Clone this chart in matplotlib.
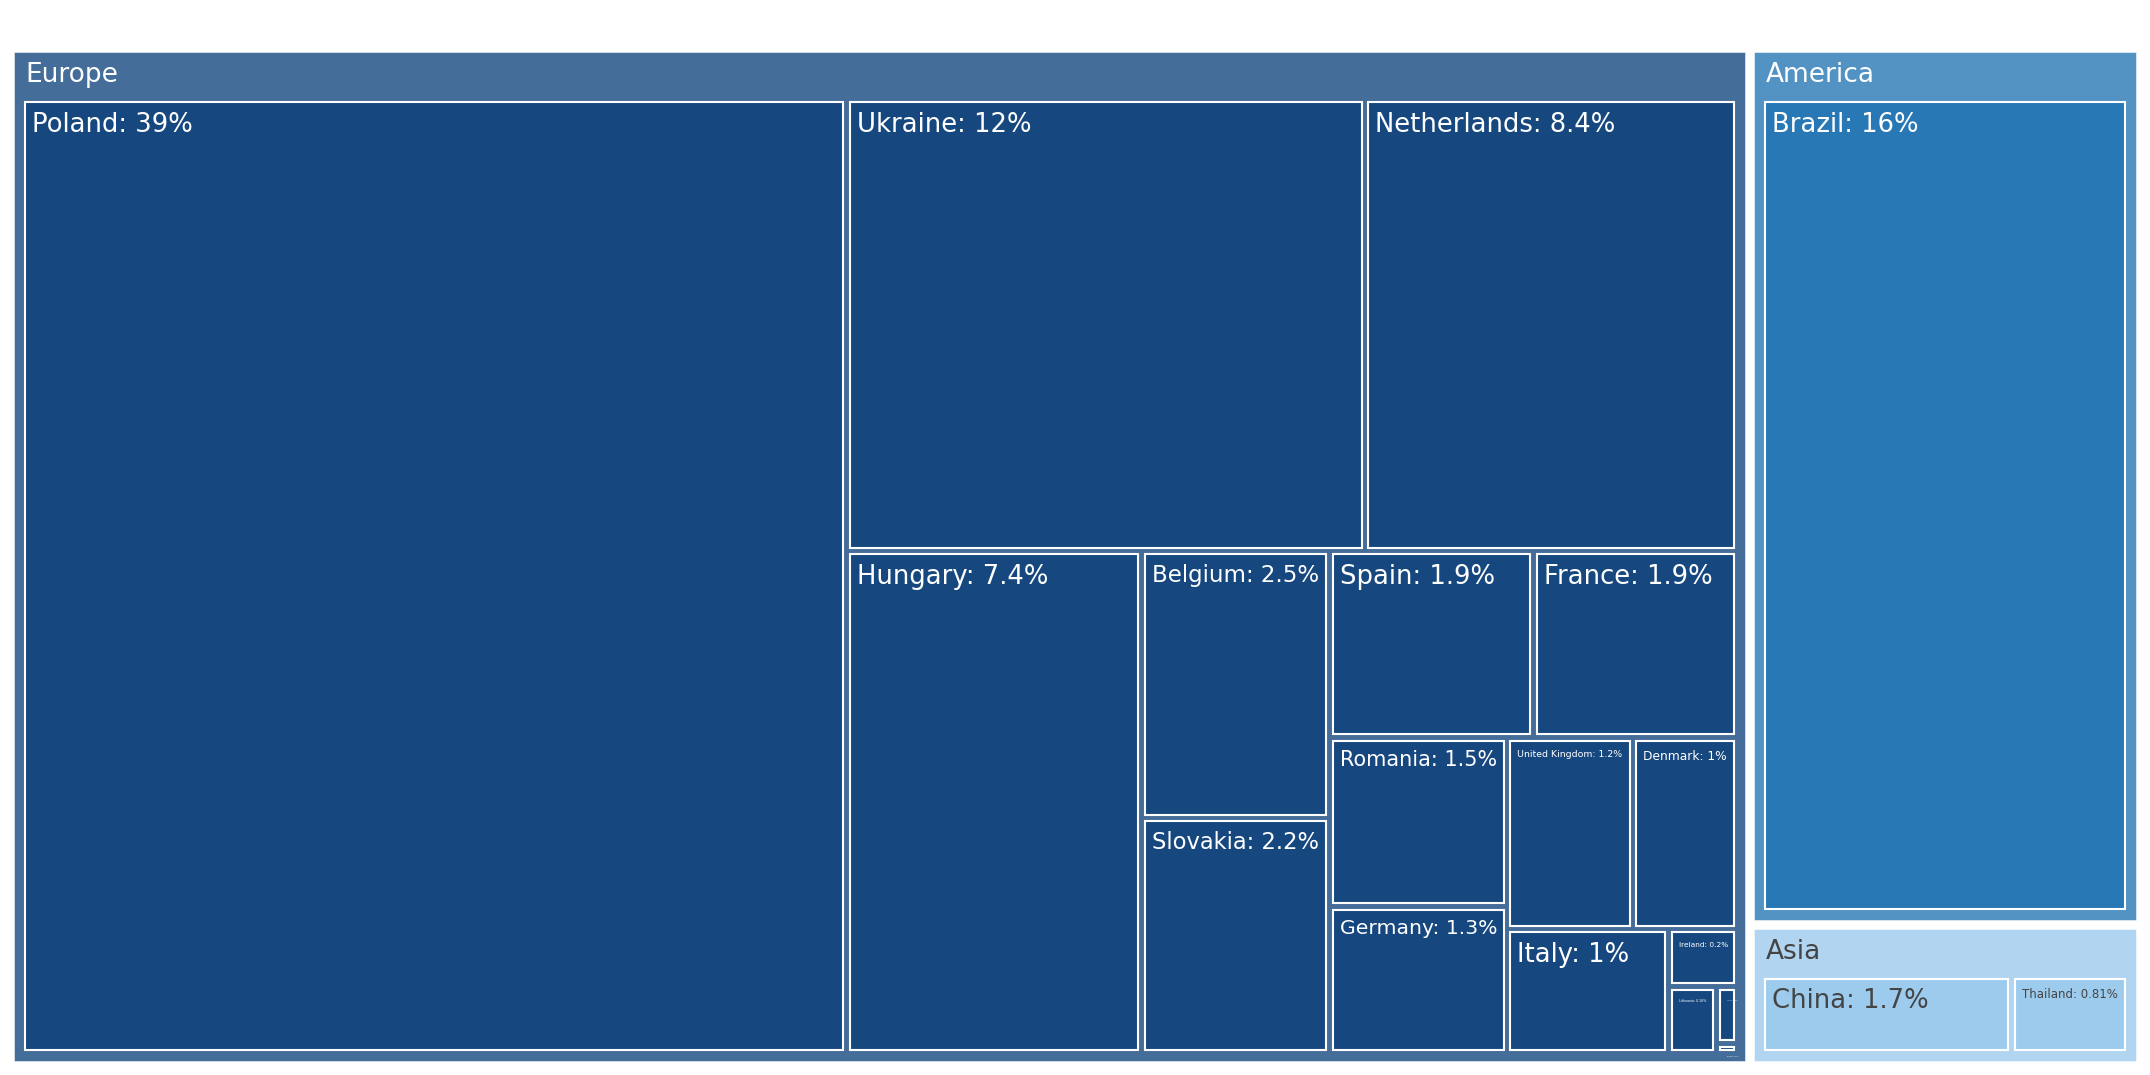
import matplotlib
matplotlib.use('Agg')
import matplotlib.pyplot as plt
from matplotlib.patches import Rectangle
from matplotlib.colors import to_rgb

# ---------------- data ----------------
continents = ['Europe', 'America', 'Asia']
europe_countries = ['Poland', 'Ukraine', 'Netherlands', 'Hungary', 'Belgium', 'Slovakia',
                    'Spain', 'France', 'Romania', 'Germany', 'United Kingdom', 'Denmark',
                    'Italy', 'Ireland', 'Lithuania', 'Austria', 'Moldova']
europe_values = [39.25, 11.7, 8.4, 7.4, 2.5, 2.2, 1.9, 1.9, 1.5, 1.3, 1.2, 1.0, 1.0,
                 0.2, 0.16, 0.06, 0.01]
america_countries = ['Brazil']
america_values = [15.79]
asia_countries = ['China', 'Thailand']
asia_values = [1.73, 0.81]

groups = {
    'Europe': (europe_countries, europe_values),
    'America': (america_countries, america_values),
    'Asia': (asia_countries, asia_values),
}
cell_colors = {'Europe': '#16487f', 'America': '#2778b5', 'Asia': '#9dcbee'}
text_colors = {'Europe': 'white', 'America': 'white', 'Asia': '#444444'}

# ---------------- squarify (d3 style, ratio 1) ----------------
def squarify(values, x0, y0, x1, y1, ratio=1.0):
    n = len(values)
    rects = [None] * n
    value = float(sum(values))
    i0 = i1 = 0
    while i0 < n:
        dx, dy = x1 - x0, y1 - y0
        sumv = values[i1]
        i1 += 1
        minv = maxv = sumv
        alpha = max(dy / dx, dx / dy) / (value * ratio)
        beta = sumv * sumv * alpha
        minr = max(maxv / beta, beta / minv)
        while i1 < n:
            nv = values[i1]
            sumv += nv
            minv = min(minv, nv)
            maxv = max(maxv, nv)
            beta = sumv * sumv * alpha
            newr = max(maxv / beta, beta / minv)
            if newr > minr:
                sumv -= nv
                break
            minr = newr
            i1 += 1
        row = range(i0, i1)
        if dx < dy:
            yb = y0 + dy * sumv / value
            xx = x0
            for i in row:
                w = dx * values[i] / sumv
                rects[i] = (xx, y0, xx + w, yb)
                xx += w
            y0 = yb
        else:
            xb = x0 + dx * sumv / value
            yy = y0
            for i in row:
                h = dy * values[i] / sumv
                rects[i] = (x0, yy, xb, yy + h)
                yy += h
            x0 = xb
        value -= sumv
        i0 = i1
    return rects

# ---------------- figure ----------------
W, H = 2150, 1075
fig = plt.figure(figsize=(21.5, 10.75), dpi=100)
ax = fig.add_axes([0, 0, 1, 1])
ax.set_xlim(0, W)
ax.set_ylim(H, 0)
ax.axis('off')
renderer = fig.canvas.get_renderer()

ROOT = (14, 52, 2136, 1061)
GAP_TOP = 9.0
PAD_T, PAD_S = 50.0, 11.0
GAP = 6.5

total = sum(sum(groups[c][1]) for c in continents)
cont_vals = [sum(groups[c][1]) for c in continents]


def blend(c, a=0.8):
    r, g, b = to_rgb(c)
    return (a * r + (1 - a), a * g + (1 - a), a * b + (1 - a))


def fit_text(x, y, s, maxw, maxh, size, color):
    t = ax.text(x, y, s, fontsize=size, color=color, ha='left', va='top',
                family='DejaVu Sans', zorder=5)
    bb = t.get_window_extent(renderer)
    if bb.width > 0 and bb.height > 0:
        scale = min(1.0, max(maxw, 0.5) / bb.width, max(maxh, 0.5) / bb.height)
        if scale < 1:
            t.set_fontsize(max(size * scale, 0.5))
    return t


p = GAP_TOP / 2
top_rects = squarify(cont_vals, ROOT[0] - p, ROOT[1] - p, ROOT[2] + p, ROOT[3] + p)
for cont, (a0, b0, a1, b1) in zip(continents, top_rects):
    x0, y0, x1, y1 = a0 + p, b0 + p, a1 - p, b1 - p
    ax.add_patch(Rectangle((x0, y0), x1 - x0, y1 - y0, facecolor=blend(cell_colors[cont]),
                           edgecolor=(1, 1, 1, 0.6), linewidth=0.6, zorder=1))
    fit_text(x0 + 11, y0 + 10.5, cont, (x1 - x0) - 22, PAD_T - 12, 19, text_colors[cont])

    names, vals = groups[cont]
    q = GAP / 2
    leaf = squarify(vals, x0 + PAD_S - q, y0 + PAD_T - q, x1 - PAD_S + q, y1 - PAD_S + q)
    for name, v, (c0, d0, c1, d1) in zip(names, vals, leaf):
        lx0, ly0, lx1, ly1 = c0 + q, d0 + q, c1 - q, d1 - q
        ax.add_patch(Rectangle((lx0, ly0), lx1 - lx0, ly1 - ly0,
                               facecolor=cell_colors[cont], edgecolor='white',
                               linewidth=1.5, zorder=2))
        pct = v / total * 100
        label = f"{name}: {pct:.2g}%"
        fit_text(lx0 + 7, ly0 + 9.5, label, (lx1 - lx0) - 14, (ly1 - ly0) - 12, 18.6,
                 text_colors[cont])

fig.savefig('out.png', dpi=100)
